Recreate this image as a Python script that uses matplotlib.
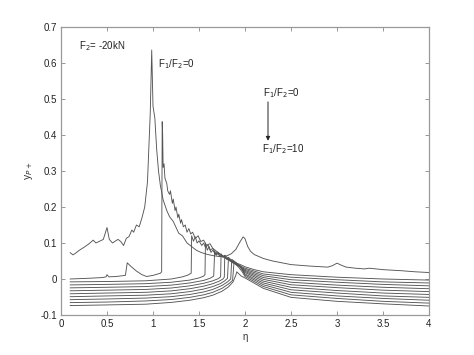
import matplotlib
matplotlib.use("Agg")
import matplotlib.pyplot as plt

plt.rcParams['font.family'] = ['Liberation Sans', 'DejaVu Sans']

# Curve F1/F2 = 0
x0 = [0.1, 0.13, 0.16, 0.2, 0.25, 0.3, 0.35, 0.38, 0.42, 0.46, 0.5, 0.525, 0.56, 0.6, 0.62, 0.65, 0.68, 0.71,
      0.74, 0.77, 0.79, 0.82, 0.85, 0.88, 0.91, 0.94, 0.97, 0.986, 1.0, 1.02, 1.04, 1.06, 1.08, 1.11, 1.15, 1.18,
      1.22, 1.28, 1.32, 1.37, 1.42, 1.47, 1.52, 1.58, 1.65, 1.73, 1.8, 1.85, 1.9, 1.95, 1.98, 2.0, 2.03, 2.06,
      2.1, 2.2, 2.3, 2.4, 2.5, 2.7, 2.9, 2.95, 3.0, 3.05, 3.1, 3.2, 3.3, 3.35, 3.5, 3.7, 3.85, 4.0]
y0 = [0.073, 0.067, 0.072, 0.08, 0.088, 0.097, 0.108, 0.1, 0.105, 0.11, 0.143, 0.11, 0.1, 0.107, 0.11, 0.104, 0.093, 0.113,
      0.118, 0.136, 0.13, 0.15, 0.145, 0.17, 0.2, 0.27, 0.46, 0.636, 0.48, 0.447, 0.36, 0.3, 0.26, 0.22, 0.19, 0.173,
      0.16, 0.127, 0.12, 0.1, 0.09, 0.08, 0.074, 0.069, 0.065, 0.062, 0.064, 0.07, 0.082, 0.105, 0.117, 0.112, 0.09, 0.077,
      0.068, 0.057, 0.05, 0.045, 0.04, 0.036, 0.033, 0.037, 0.044, 0.038, 0.033, 0.03, 0.028, 0.03, 0.026, 0.023, 0.02, 0.018]

# Curve F1/F2 = 1
x1 = [0.1, 0.3, 0.45, 0.49, 0.5, 0.52, 0.6, 0.7, 0.72, 0.76, 0.82, 0.88, 0.93, 1.0, 1.08, 1.094,
      1.1, 1.105, 1.11, 1.12, 1.13, 1.15, 1.16, 1.18, 1.19, 1.21, 1.22, 1.24, 1.25, 1.27, 1.28, 1.30, 1.31,
      1.33, 1.35, 1.37, 1.39, 1.41, 1.43, 1.46, 1.49, 1.52, 1.55, 1.58, 1.62, 1.65, 1.7, 1.75, 1.8, 1.85,
      1.9, 1.95, 2.0, 2.1, 2.2, 2.5, 3.0, 3.5, 4.0]
y1 = [0.0, 0.002, 0.004, 0.006, 0.012, 0.006, 0.007, 0.01, 0.045, 0.035, 0.022, 0.012, 0.007, 0.01, 0.016, 0.02,
      0.437, 0.40, 0.31, 0.32, 0.28, 0.265, 0.245, 0.235, 0.245, 0.21, 0.222, 0.19, 0.2, 0.17, 0.18, 0.155, 0.165,
      0.145, 0.15, 0.13, 0.14, 0.125, 0.13, 0.113, 0.12, 0.104, 0.108, 0.094, 0.098, 0.085, 0.075, 0.066, 0.058, 0.052,
      0.045, 0.04, 0.034, 0.026, 0.02, 0.012, 0.005, 0.0, -0.003]

# Curves F1/F2 = 2 ... 10
x2 = [0.1, 0.5, 0.92, 1.2, 1.32, 1.38, 1.415, 1.42, 1.44, 1.46, 1.48, 1.5, 1.53, 1.55, 1.57, 1.6, 1.62, 1.65,
      1.68, 1.7, 1.75, 1.8, 1.85, 1.9, 1.95, 2.0, 2.2, 2.5, 3.0, 3.5, 4.0]
y2 = [-0.008, -0.007, -0.005, 0.0, 0.006, 0.011, 0.016, 0.12, 0.105, 0.117, 0.1, 0.106, 0.093, 0.1, 0.088, 0.094,
      0.08, 0.085, 0.07, 0.075, 0.064, 0.057, 0.05, 0.043, 0.036, 0.030, 0.014, 0.005, -0.002, -0.008, -0.011]

x3 = [0.1, 0.5, 0.92, 1.2, 1.4, 1.5, 1.55, 1.565, 1.57, 1.59, 1.61, 1.63, 1.65, 1.68, 1.7, 1.72, 1.78, 1.85,
      1.9, 1.95, 2.0, 2.2, 2.5, 3.0, 3.5, 4.0]
y3 = [-0.0164, -0.015, -0.013, -0.009, -0.003, 0.003, 0.008, 0.012, 0.1, 0.08, 0.09, 0.074, 0.08, 0.068, 0.073,
      0.065, 0.06, 0.05, 0.042, 0.034, 0.027, 0.009, -0.002, -0.009, -0.015, -0.019]

x4 = [0.1, 0.5, 0.92, 1.2, 1.4, 1.55, 1.62, 1.66, 1.67, 1.69, 1.71, 1.73, 1.75, 1.8, 1.85, 1.9, 1.95, 2.0, 2.2,
      2.5, 3.0, 3.5, 4.0]
y4 = [-0.0246, -0.023, -0.021, -0.017, -0.011, -0.004, 0.002, 0.008, 0.078, 0.066, 0.073, 0.062, 0.066, 0.056,
      0.048, 0.041, 0.033, 0.024, 0.004, -0.009, -0.017, -0.023, -0.027]

x5 = [0.1, 0.5, 0.92, 1.2, 1.4, 1.55, 1.65, 1.71, 1.735, 1.74, 1.76, 1.78, 1.82, 1.87, 1.92, 1.96, 2.0, 2.2,
      2.5, 3.0, 3.5, 4.0]
y5 = [-0.0328, -0.031, -0.029, -0.025, -0.019, -0.012, -0.005, 0.001, 0.006, 0.07, 0.06, 0.066, 0.056, 0.048,
      0.04, 0.032, 0.021, -0.001, -0.016, -0.024, -0.031, -0.035]

x6 = [0.1, 0.5, 0.92, 1.2, 1.4, 1.55, 1.65, 1.72, 1.76, 1.775, 1.78, 1.8, 1.82, 1.86, 1.9, 1.95, 2.0, 2.2,
      2.5, 3.0, 3.5, 4.0]
y6 = [-0.041, -0.039, -0.037, -0.033, -0.027, -0.02, -0.013, -0.006, 0.0, 0.005, 0.065, 0.055, 0.06, 0.051,
      0.045, 0.036, 0.018, -0.006, -0.023, -0.032, -0.039, -0.043]

x7 = [0.1, 0.5, 0.92, 1.2, 1.4, 1.55, 1.65, 1.73, 1.78, 1.81, 1.82, 1.84, 1.86, 1.9, 1.95, 2.0, 2.2, 2.5,
      3.0, 3.5, 4.0]
y7 = [-0.0492, -0.047, -0.045, -0.041, -0.035, -0.028, -0.021, -0.013, -0.005, 0.002, 0.058, 0.05, 0.054,
      0.046, 0.035, 0.014, -0.011, -0.030, -0.039, -0.047, -0.051]

x8 = [0.1, 0.5, 0.92, 1.2, 1.4, 1.55, 1.65, 1.75, 1.81, 1.845, 1.855, 1.87, 1.89, 1.93, 1.97, 2.0, 2.2, 2.5,
      3.0, 3.5, 4.0]
y8 = [-0.0574, -0.0555, -0.053, -0.049, -0.043, -0.036, -0.029, -0.018, -0.008, 0.0, 0.05, 0.044, 0.047,
      0.038, 0.025, 0.011, -0.016, -0.037, -0.047, -0.054, -0.059]

x9 = [0.1, 0.5, 0.92, 1.2, 1.4, 1.55, 1.65, 1.75, 1.82, 1.865, 1.88, 1.9, 1.93, 1.97, 2.0, 2.2, 2.5, 3.0,
      3.5, 4.0]
y9 = [-0.0656, -0.064, -0.061, -0.057, -0.051, -0.044, -0.037, -0.026, -0.014, -0.004, 0.045, 0.04, 0.033,
      0.02, 0.007, -0.021, -0.044, -0.054, -0.062, -0.067]

x10 = [0.1, 0.5, 0.92, 1.2, 1.4, 1.55, 1.65, 1.75, 1.82, 1.87, 1.9, 1.91, 1.93, 1.96, 2.0, 2.2, 2.5, 3.0,
       3.5, 4.0]
y10 = [-0.0738, -0.072, -0.07, -0.065, -0.059, -0.052, -0.045, -0.034, -0.022, -0.008, 0.01, 0.02, 0.015,
       0.008, 0.003, -0.026, -0.051, -0.062, -0.069, -0.075]

xs = [x0, x1, x2, x3, x4, x5, x6, x7, x8, x9, x10]
ys = [y0, y1, y2, y3, y4, y5, y6, y7, y8, y9, y10]

x_ticks = [0, 0.5, 1, 1.5, 2, 2.5, 3, 3.5, 4]
x_tick_labels = ['0', '0.5', '1', '1.5', '2', '2.5', '3', '3.5', '4']
y_ticks = [-0.1, 0, 0.1, 0.2, 0.3, 0.4, 0.5, 0.6, 0.7]
y_tick_labels = ['-0.1', '0', '0.1', '0.2', '0.3', '0.4', '0.5', '0.6', '0.7']

fig = plt.figure(figsize=(4.74, 3.55), dpi=100)
ax = fig.add_axes([61 / 474, 40 / 355, 368 / 474, 288 / 355])

line_color = '#555555'
for xx, yy in zip(xs, ys):
    ax.plot(xx, yy, color=line_color, lw=0.65)

ax.set_xlim(0, 4)
ax.set_ylim(-0.1, 0.7)
ax.set_xticks(x_ticks)
ax.set_xticklabels(x_tick_labels)
ax.set_yticks(y_ticks)
ax.set_yticklabels(y_tick_labels)
ax.tick_params(direction='in', top=True, right=True, length=3, width=0.6,
               color='#888888', labelsize=7, labelcolor='#222222', pad=3)
for s in ax.spines.values():
    s.set_color('#999999')
    s.set_linewidth(0.9)

ax.set_xlabel('η', fontsize=7, color='#333333', labelpad=2)
ax.set_ylabel('y$_{P+}$', fontsize=7.5, color='#333333', labelpad=4)

tc = '#222222'
ax.text(0.196, 0.647, 'F$_2$= -20kN', fontsize=7, color=tc, va='center', ha='left')
ax.text(1.054, 0.597, 'F$_1$/F$_2$=0', fontsize=7, color=tc, va='center', ha='left')
ax.text(2.20, 0.517, 'F$_1$/F$_2$=0', fontsize=7, color=tc, va='center', ha='left')
ax.text(2.18, 0.361, 'F$_1$/F$_2$=10', fontsize=7, color=tc, va='center', ha='left')
ax.annotate('', xy=(2.25, 0.384), xytext=(2.25, 0.492),
            arrowprops=dict(arrowstyle='-|>', color='#222222', lw=0.7,
                            mutation_scale=6, shrinkA=0, shrinkB=0))

fig.savefig('out.png', dpi=100)
